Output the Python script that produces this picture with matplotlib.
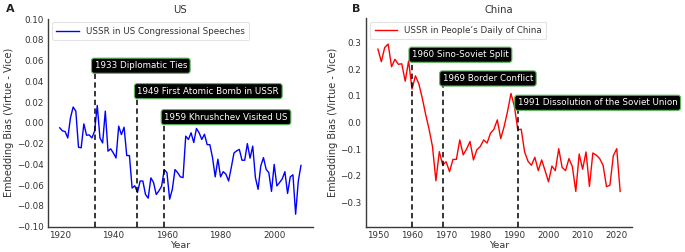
import matplotlib
matplotlib.use("Agg")
import matplotlib.pyplot as plt
import numpy as np

# ---------------- data ----------------
us_years = list(range(1920, 2011))
us_bias = [
    -0.0048, -0.0077, -0.0084, -0.0145, 0.0048, 0.0152, 0.0113, -0.0235, -0.0240, -0.0010,
    -0.0119, -0.0116, -0.0145, -0.0080, 0.0168, -0.0145, -0.0193, 0.0113, -0.0273, -0.0250,
    -0.0290, -0.0338, -0.0032, -0.0113, -0.0042, -0.0315, -0.0315, -0.0628, -0.0606, -0.0670,
    -0.0560, -0.0560, -0.0690, -0.0725, -0.0530, -0.0575, -0.0690, -0.0655, -0.0610, -0.0450,
    -0.0480, -0.0735, -0.0640, -0.0450, -0.0480, -0.0520, -0.0527, -0.0128, -0.0160, -0.0096,
    -0.0190, -0.0054, -0.0096, -0.0160, -0.0110, -0.0210, -0.0210, -0.0335, -0.0520, -0.0350,
    -0.0520, -0.0470, -0.0495, -0.0560, -0.0430, -0.0290, -0.0270, -0.0256, -0.0360, -0.0360,
    -0.0200, -0.0340, -0.0224, -0.0527, -0.0640, -0.0415, -0.0335, -0.0447, -0.0480, -0.0660,
    -0.0400, -0.0607, -0.0575, -0.0540, -0.0470, -0.0680, -0.0520, -0.0500, -0.0880, -0.0560,
    -0.0410,
]

cn_years = list(range(1950, 2022))
cn_bias = [
    0.275, 0.228, 0.281, 0.294, 0.209, 0.237, 0.218, 0.220, 0.155, 0.231,
    0.125, 0.175, 0.145, 0.092, 0.030, -0.025, -0.090, -0.218, -0.109, -0.159,
    -0.147, -0.184, -0.138, -0.138, -0.065, -0.121, -0.099, -0.071, -0.140, -0.102,
    -0.090, -0.065, -0.077, -0.040, -0.025, 0.010, -0.060, -0.015, 0.042, 0.109,
    0.061, -0.027, -0.025, -0.110, -0.145, -0.160, -0.130, -0.180, -0.140, -0.180,
    -0.222, -0.163, -0.180, -0.098, -0.168, -0.180, -0.135, -0.165, -0.258, -0.118,
    -0.175, -0.110, -0.239, -0.114, -0.122, -0.135, -0.160, -0.240, -0.235, -0.124,
    -0.098, -0.258,
]

us_event_years = [1933, 1949, 1959]
us_event_labels = ["1933 Diplomatic Ties", "1949 First Atomic Bomb in USSR", "1959 Khrushchev Visited US"]
us_event_heights = [0.055, 0.0305, 0.0055]

cn_event_years = [1960, 1969, 1991]
cn_event_labels = ["1960 Sino-Soviet Split", "1969 Border Conflict", "1991 Dissolution of the Soviet Union"]
cn_event_heights = [0.254, 0.165, 0.074]

# ---------------- style ----------------
plt.rcParams['font.family'] = ['DejaVu Sans']
text_color = '#333333'
fs = 6.3

fig = plt.figure(figsize=(6.85, 2.52), dpi=100)
ax1 = fig.add_axes([0.0696, 0.1004, 0.3874, 0.8242])
ax2 = fig.add_axes([0.534, 0.1004, 0.389, 0.8266])


def style(ax):
    for s in ['top', 'right']:
        ax.spines[s].set_visible(False)
    for s in ['left', 'bottom']:
        ax.spines[s].set_color('#3a3a3a')
        ax.spines[s].set_linewidth(1.0)
    ax.tick_params(axis='both', length=0, labelsize=fs, labelcolor=text_color, pad=3)
    ax.set_xlabel("Year", fontsize=6.8, color=text_color, labelpad=1)
    ax.set_ylabel("Embedding Bias (Virtue - Vice)", fontsize=7.0, color=text_color, labelpad=2)


def events(ax, years, labels, heights, ymin):
    for yr, lab, h in zip(years, labels, heights):
        ax.vlines(yr, ymin, h, colors='black', linestyles=(0, (3.5, 2.2)), linewidth=1.1, zorder=3)
        ax.text(yr, h, lab, ha='left', va='center', fontsize=fs, color='white', zorder=5,
                clip_on=False,
                bbox=dict(boxstyle='round,pad=0.35,rounding_size=0.3', facecolor='black',
                          edgecolor='#5cb85c', linewidth=0.8))


# US panel
ax1.plot(us_years, us_bias, color='blue', linewidth=1.0, label="USSR in US Congressional Speeches", zorder=2)
ax1.set_ylim(-0.1, 0.1)
yt = np.arange(-0.10, 0.101, 0.02)
ax1.set_yticks(yt)
ax1.set_yticklabels([f"{v:.2f}".replace('-', '\u2212') if abs(v) > 1e-9 else "0.00" for v in yt])
ax1.set_xticks([1920, 1940, 1960, 1980, 2000])
ax1.set_title("US", fontsize=7.2, color=text_color, pad=4)
style(ax1)
events(ax1, us_event_years, us_event_labels, us_event_heights, -0.1)
leg1 = ax1.legend(loc='upper left', fontsize=fs, frameon=True, borderpad=0.5, handlelength=2.6,
                  bbox_to_anchor=(0.0, 1.005))
leg1.get_frame().set_edgecolor('#dddddd')
leg1.get_frame().set_linewidth(0.8)
for t in leg1.get_texts():
    t.set_color(text_color)

# China panel
ax2.plot(cn_years, cn_bias, color='red', linewidth=1.0, label="USSR in People\u2019s Daily of China", zorder=2)
ax2.set_ylim(-0.39, 0.39)
ax2.set_yticks([-0.3, -0.2, -0.1, 0.0, 0.1, 0.2, 0.3])
ax2.set_xticks([1950, 1960, 1970, 1980, 1990, 2000, 2010, 2020])
ax2.set_title("China", fontsize=7.2, color=text_color, pad=4)
style(ax2)
events(ax2, cn_event_years, cn_event_labels, cn_event_heights, -0.39)
leg2 = ax2.legend(loc='upper left', fontsize=fs, frameon=True, borderpad=0.5, handlelength=2.6,
                  bbox_to_anchor=(0.0, 1.005))
leg2.get_frame().set_edgecolor('#dddddd')
leg2.get_frame().set_linewidth(0.8)
for t in leg2.get_texts():
    t.set_color(text_color)

fig.text(0.008, 0.985, "A", fontsize=8, fontweight='bold', va='top', ha='left', color='#222222')
fig.text(0.514, 0.985, "B", fontsize=8, fontweight='bold', va='top', ha='left', color='#222222')

fig.savefig("out.png", dpi=100)
